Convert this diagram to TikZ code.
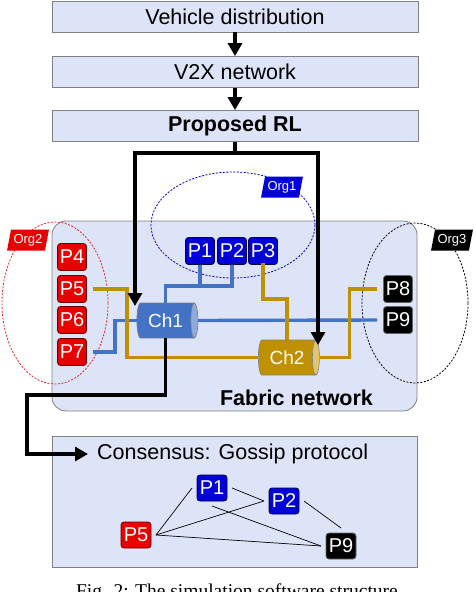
\documentclass[tikz,border=0pt]{standalone}
\usepackage{fontspec}
\setmainfont{Liberation Sans}
\newfontfamily\capfont{Liberation Serif}
\usetikzlibrary{arrows.meta, calc, shapes.geometric}

\definecolor{boxfill}{RGB}{222,228,248}
\definecolor{boxline}{RGB}{128,128,128}
\definecolor{chblue}{RGB}{68,114,196}
\definecolor{chblueend}{RGB}{143,170,220}
\definecolor{chgold}{RGB}{191,144,0}
\definecolor{chgoldend}{RGB}{226,196,110}
\definecolor{peerred}{RGB}{232,0,0}
\definecolor{peerblue}{RGB}{0,0,215}
\definecolor{orgred}{RGB}{230,40,40}

\begin{document}
\begin{tikzpicture}[x=1pt, y=-1pt,
	layer/.style={draw=boxline, fill=boxfill, line width=0.8pt, minimum width=366pt, minimum height=31pt, inner sep=0pt, font=\fontsize{21.5}{24}\selectfont},
	flow/.style={line width=3.2pt, -{Triangle[width=14pt,length=13pt]}},
	peer/.style={rounded corners=3pt, minimum width=29pt, minimum height=27pt, inner sep=0pt, text=white, line width=0.8pt, font=\fontsize{20}{22}\selectfont},
	redpeer/.style={peer, fill=peerred, draw=red!40!black},
	bluepeer/.style={peer, fill=peerblue, draw=blue!30!black},
	blackpeer/.style={peer, fill=black, draw=black!60},
	chan/.style={cylinder, shape aspect=0.5, minimum width=35pt, minimum height=61pt, inner sep=0pt, draw=black!50, line width=0.6pt, text=white, cylinder uses custom fill, font=\fontsize{19}{21}\selectfont},
	orgtag/.style={trapezium, trapezium left angle=75, trapezium right angle=105, trapezium stretches=true, minimum width=42pt, minimum height=21pt, inner sep=1pt, text=white, font=\fontsize{13}{14}\selectfont},
	orgline/.style={line width=0.8pt, dash pattern=on 2pt off 1.5pt},
	bluewire/.style={chblue, line width=3.4pt},
	goldwire/.style={chgold, line width=3.4pt},
	gossip/.style={line width=0.7pt},
	gpeer/.style={outer sep=5pt}
]
	\useasboundingbox (0,0) rectangle (474,592);

	% upper chain
	\node[layer] (vd) at (235,16.5) {Vehicle distribution};
	\node[layer] (v2x) at (235,72) {V2X network};
	\node[layer, font=\fontsize{21.5}{24}\selectfont\bfseries] (rl) at (235,126) {Proposed RL};
	\draw[flow] (vd) -- (v2x);
	\draw[flow] (v2x) -- (rl);

	% fabric
	\node[draw=boxline, fill=boxfill, line width=0.8pt, rounded corners=14pt, minimum width=365pt, minimum height=190pt] (fab) at (234.5,316) {};
	\node[font=\fontsize{21.5}{24}\selectfont\bfseries] (fabtext) at (296.5,398) {Fabric network};

	\draw[orgline, draw=blue!80!black] (233,225) ellipse [x radius=82pt, y radius=53pt];
	\draw[orgline, draw=orgred] (55,303) ellipse [x radius=53pt, y radius=81pt];
	\draw[orgline, draw=black] (415,303) ellipse [x radius=53pt, y radius=80pt];
	\node[orgtag, fill=peerblue] (org1) at (282,187) {Org1};
	\node[orgtag, fill=peerred] (org2) at (28,240) {Org2};
	\node[orgtag, fill=black] (org3) at (452,240) {Org3};

	\node[bluepeer] (p1) at (200,251) {P1};
	\node[bluepeer] (p2) at (232,251) {P2};
	\node[bluepeer] (p3) at (263,251) {P3};
	\node[redpeer] (p4) at (72,257) {P4};
	\node[redpeer] (p5) at (72,289) {P5};
	\node[redpeer] (p6) at (72,320) {P6};
	\node[redpeer] (p7) at (72,352) {P7};
	\node[blackpeer] (p8) at (398,289) {P8};
	\node[blackpeer] (p9) at (398,320) {P9};

	\node[chan, cylinder body fill=chblue, cylinder end fill=chblueend] (ch1) at (165.5,320.5) {Ch1};
	\node[chan, cylinder body fill=chgold, cylinder end fill=chgoldend] (ch2) at (287,357.5) {Ch2};

	% channel wiring
	\draw[bluewire] (ch1.north) |- ($(p2.south)+(0,21)$) -- (p2.south);
	\draw[bluewire] (p1.south) -- ++(0,21);
	\draw[bluewire] (ch1.east) -- ([xshift=-6pt]p9.west);
	\draw[bluewire] ([xshift=6pt]p7.east) -- ++(22,0) |- (ch1.west);
	\draw[goldwire] ([xshift=6pt]p5.east) -- ++(34,0) |- (ch2.west);
	\draw[goldwire] ([yshift=2pt]p3.south) -- ++(0,36) -| (ch2.north);
	\draw[goldwire] (ch2.east) -- ++(30,0) |- ([xshift=-6pt]p8.west);

	% RL to channels
	\coordinate (split) at (235,153);
	\coordinate (ch1in) at (135,306);
	\coordinate (ch2in) at (318,345);
	\draw[flow] (rl.south) -- (split) -| (ch1in);
	\draw[flow] (split) -| (ch2in);

	% consensus
	\node[draw=boxline, fill=boxfill, line width=0.8pt, minimum width=365pt, minimum height=131pt] (cons) at (234.5,501.5) {};
	\node[anchor=west, inner xsep=9pt, inner ysep=0pt, font=\fontsize{21.5}{24}\selectfont] (constext) at (88,454) {Consensus: Gossip protocol};
	\coordinate (wrap) at (27,395);
	\draw[flow] (ch1.south) |- (wrap) |- (constext.west);

	\node[bluepeer, gpeer, minimum width=30pt, minimum height=26pt] (g1) at (212,488) {P1};
	\node[bluepeer, gpeer, minimum width=30pt, minimum height=26pt] (g2) at (284,501) {P2};
	\node[redpeer, gpeer, minimum width=30pt, minimum height=26pt] (g5) at (136,535) {P5};
	\node[blackpeer, gpeer, minimum width=30pt, minimum height=26pt] (g9) at (341,546) {P9};
	\draw[gossip] (g5.east) -- (g1.west);
	\draw[gossip] (g5.east) -- (g2.west);
	\draw[gossip] (g5.east) -- (g9.west);
	\draw[gossip] (g1.east) -- (g2.west);
	\draw[gossip] (g1.south) -- (g9.west);
	\draw[gossip] (g2.east) -- (g9.north);

	\node[anchor=base, font=\capfont\fontsize{19.5}{22}\selectfont] (caption) at (237,597) {Fig. 2: The simulation software structure};
\end{tikzpicture}
\end{document}
